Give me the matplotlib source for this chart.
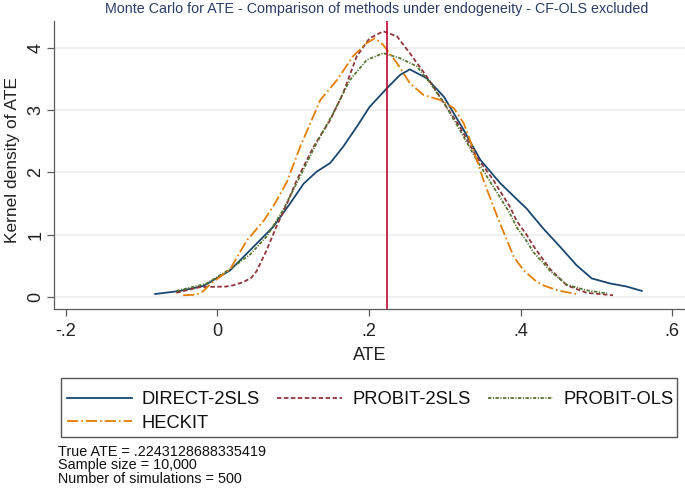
import matplotlib
matplotlib.use("Agg")
import matplotlib.pyplot as plt
from matplotlib.patches import Rectangle

plt.rcParams['font.family'] = ['Liberation Sans', 'DejaVu Sans']
plt.rcParams['lines.scale_dashes'] = False

# valores (ATE, densidade)
direct_x = [-0.082, -0.049, -0.018, 0.017, 0.048, 0.074, 0.096, 0.114, 0.131, 0.149, 0.166, 0.184,
            0.201, 0.224, 0.241, 0.254, 0.276, 0.299, 0.325, 0.347, 0.373, 0.395, 0.408, 0.430,
            0.452, 0.474, 0.494, 0.518, 0.540, 0.560]
direct_y = [0.05, 0.10, 0.18, 0.43, 0.81, 1.13, 1.50, 1.82, 2.01, 2.15, 2.41, 2.73,
            3.05, 3.35, 3.56, 3.65, 3.51, 3.21, 2.68, 2.20, 1.83, 1.57, 1.42, 1.10,
            0.81, 0.51, 0.30, 0.22, 0.17, 0.10]

probit2sls_x = [-0.054, -0.023, 0.012, 0.021, 0.034, 0.045, 0.052, 0.065, 0.078, 0.092, 0.105, 0.127,
                0.149, 0.166, 0.184, 0.201, 0.219, 0.237, 0.254, 0.276, 0.299, 0.320, 0.342, 0.364,
                0.373, 0.386, 0.395, 0.408, 0.417, 0.430, 0.439, 0.461, 0.487, 0.505, 0.522]
probit2sls_y = [0.07, 0.16, 0.17, 0.19, 0.24, 0.31, 0.42, 0.75, 1.13, 1.50, 1.88, 2.41,
                2.84, 3.27, 3.86, 4.15, 4.26, 4.18, 3.91, 3.54, 3.11, 2.73, 2.25, 1.88,
                1.70, 1.45, 1.22, 1.00, 0.82, 0.60, 0.45, 0.19, 0.07, 0.05, 0.03]

probitols_x = [-0.054, -0.023, -0.014, 0.017, 0.043, 0.065, 0.087, 0.109, 0.131, 0.153, 0.175, 0.197,
               0.219, 0.241, 0.263, 0.281, 0.299, 0.320, 0.342, 0.364, 0.373, 0.386, 0.395, 0.408,
               0.417, 0.430, 0.439, 0.461, 0.487, 0.514]
probitols_y = [0.10, 0.19, 0.22, 0.45, 0.68, 0.97, 1.40, 1.93, 2.47, 2.95, 3.48, 3.80,
               3.91, 3.83, 3.70, 3.43, 3.11, 2.68, 2.20, 1.77, 1.60, 1.34, 1.12, 0.90,
               0.72, 0.55, 0.42, 0.20, 0.11, 0.06]

heckit_x = [-0.045, -0.027, -0.018, -0.010, 0.017, 0.039, 0.061, 0.076, 0.092, 0.109, 0.136, 0.158,
            0.179, 0.197, 0.208, 0.219, 0.237, 0.254, 0.272, 0.294, 0.312, 0.325, 0.338, 0.351,
            0.369, 0.391, 0.404, 0.421, 0.430, 0.439, 0.452, 0.474]
heckit_y = [0.03, 0.04, 0.10, 0.20, 0.45, 0.91, 1.22, 1.50, 1.85, 2.40, 3.16, 3.48,
            3.86, 4.07, 4.15, 4.04, 3.75, 3.43, 3.24, 3.16, 3.03, 2.79, 2.36, 1.88,
            1.30, 0.65, 0.43, 0.25, 0.19, 0.15, 0.10, 0.05]

true_ate = 0.2243128688335419
x_ticks = [-0.2, 0, 0.2, 0.4, 0.6]
x_tick_labels = ['-.2', '0', '.2', '.4', '.6']
y_ticks = [0, 1, 2, 3, 4]
notas = ['True ATE = .2243128688335419', 'Sample size = 10,000', 'Number of simulations = 500']

W, H = 685, 492
fig = plt.figure(figsize=(W / 100, H / 100), dpi=100)
fig.patch.set_facecolor('white')
ax = fig.add_axes([54.3 / W, 1 - 309 / H, (W - 54.3) / W, (309 - 20.7) / H])

cinza = '#5a5a5a'
for y in y_ticks:
    ax.axhline(y, color='#ececec', lw=1.1, zorder=0)

l1, = ax.plot(direct_x, direct_y, color='#1a476f', lw=1.3, label='DIRECT-2SLS')
l2, = ax.plot(probit2sls_x, probit2sls_y, color='#90353b', lw=1.3, dashes=(3.2, 1.8),
              label='PROBIT-2SLS')
l3, = ax.plot(probitols_x, probitols_y, color='#55752f', lw=1.3, dashes=(2.4, 1.1, 0.8, 1.1),
              label='PROBIT-OLS')
l4, = ax.plot(heckit_x, heckit_y, color='#e37e00', lw=1.3, dashes=(8, 2.2, 1.2, 2.2),
              label='HECKIT')
ax.axvline(true_ate, color='#c10534', lw=1.2)

ax.set_xlim(-0.215, 0.617)
ax.set_ylim(-0.19, 4.43)
ax.set_xticks(x_ticks)
ax.set_xticklabels(x_tick_labels)
ax.set_yticks(y_ticks)
ax.tick_params(axis='both', colors=cinza, labelcolor='#222222', labelsize=13, length=5, width=0.9)
ax.tick_params(axis='x', pad=5)
ax.tick_params(axis='y', labelrotation=90, pad=2)
for lab in ax.get_yticklabels():
    lab.set_va('center')
for s in ['top', 'right']:
    ax.spines[s].set_visible(False)
for s in ['left', 'bottom']:
    ax.spines[s].set_color(cinza)
    ax.spines[s].set_linewidth(0.9)

fig.text(377 / W, 1 - 9 / H,
         'Monte Carlo for ATE - Comparison of methods under endogeneity - CF-OLS excluded',
         ha='center', va='center', fontsize=10.3, color='#2a3d66')
fig.text(370 / W, 1 - 355 / H, 'ATE', ha='center', va='center', fontsize=13, color='#222222')
fig.text(13 / W, 1 - 160 / H, 'Kernel density of ATE', ha='center', va='center',
         rotation=90, fontsize=12.5, color='#222222')

# caixa da legenda desenhada a parte
caixa = Rectangle((60.7 / W, 1 - 436.7 / H), (676.7 - 60.7) / W, (436.7 - 378.3) / H,
                  transform=fig.transFigure, fill=False, edgecolor='#555555', lw=1.0)
fig.add_artist(caixa)

# ordem para o preenchimento por colunas ficar igual ao Stata (por linhas)
leg = fig.legend([l1, l4, l2, l3], ['DIRECT-2SLS', 'HECKIT', 'PROBIT-2SLS', 'PROBIT-OLS'],
                 loc='upper left', bbox_to_anchor=(66.7 / W, 1 - 391.3 / H),
                 bbox_transform=fig.transFigure, ncol=3, frameon=False,
                 fontsize=13.2, handlelength=3.55, handletextpad=0.54,
                 columnspacing=0.95, labelspacing=0.35, borderpad=0, borderaxespad=0)
for t in leg.get_texts():
    t.set_color('#111111')

for i, nota in enumerate(notas):
    fig.text(58.3 / W, 1 - (451.7 + i * 13.6) / H, nota, ha='left', va='center',
             fontsize=10.35, color='#111111')

fig.savefig('out.png', dpi=100)
